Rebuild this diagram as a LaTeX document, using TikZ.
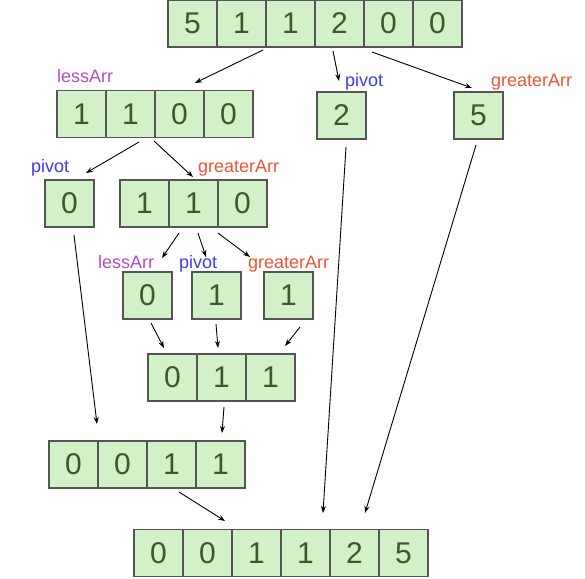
\documentclass[tikz,border=0pt]{standalone}
\usepackage{fontspec}
\setmainfont{Liberation Sans}
\usetikzlibrary{arrows.meta}
\definecolor{cellfill}{HTML}{D3F1C8}
\definecolor{celltext}{HTML}{3A5A2A}
\definecolor{cellline}{HTML}{555555}
\definecolor{lesscol}{HTML}{B04CC8}
\definecolor{pivcol}{HTML}{3B3BF5}
\definecolor{grcol}{HTML}{EE5530}
\begin{document}
\begin{tikzpicture}[x=1pt,y=-1pt,
 cell/.style={draw=cellline,line width=1.2pt,fill=cellfill,minimum width=49pt,minimum height=47pt,inner sep=0pt,text=celltext,font=\fontsize{30}{30}\selectfont},
 lab/.style={font=\fontsize{18}{18}\selectfont,inner sep=0pt,anchor=base west},
 arr/.style={-{Stealth[length=7pt,width=5pt]},line width=0.9pt}]
\useasboundingbox (0,0) rectangle (585,578);
\newcommand\cellrow[4]{\foreach \v [count=\i] in {#4} \node[cell] (#1\i) at ({#2+24.5+49*(\i-1)},#3) {\v};}
\cellrow{t}{168}{23.5}{5,1,1,2,0,0}
\cellrow{la}{57}{114}{1,1,0,0}
\cellrow{pa}{317}{115.5}{2}
\cellrow{ga}{454}{115.5}{5}
\cellrow{pb}{45}{203.5}{0}
\cellrow{gb}{120}{203.5}{1,1,0}
\cellrow{lc}{123}{295.5}{0}
\cellrow{pc}{192}{295.5}{1}
\cellrow{gc}{264}{295.5}{1}
\cellrow{m}{148}{377.5}{0,1,1}
\cellrow{n}{49}{464.5}{0,0,1,1}
\cellrow{f}{134}{553}{0,0,1,1,2,5}
% labels
\node[lab,text=lesscol] (l1) at (57,82) {lessArr};
\node[lab,text=pivcol] (l2) at (345,86) {pivot};
\node[lab,text=grcol] (l3) at (491,86) {greaterArr};
\node[lab,text=pivcol] (l4) at (31,172) {pivot};
\node[lab,text=grcol] (l5) at (198,172) {greaterArr};
\node[lab,text=lesscol] (l6) at (98,268) {lessArr};
\node[lab,text=pivcol] (l7) at (179,268) {pivot};
\node[lab,text=grcol] (l8) at (248,268) {greaterArr};
% arrow endpoints
\coordinate (a1s) at (263,50); \coordinate (a1e) at (195,83);
\coordinate (a2s) at (333,51); \coordinate (a2e) at (339,81);
\coordinate (a3s) at (372,52); \coordinate (a3e) at (472,88);
\coordinate (a4s) at (139,142); \coordinate (a4e) at (86,173);
\coordinate (a5s) at (154,141); \coordinate (a5e) at (193,177);
\coordinate (a6s) at (179,233); \coordinate (a6e) at (162,258);
\coordinate (a7s) at (198,233); \coordinate (a7e) at (206,257);
\coordinate (a8s) at (218,233); \coordinate (a8e) at (250,257);
\coordinate (a9s) at (151,323); \coordinate (a9e) at (164,348);
\coordinate (a10s) at (216,324); \coordinate (a10e) at (218,348);
\coordinate (a11s) at (300,327); \coordinate (a11e) at (285,346);
\coordinate (a12s) at (74,235); \coordinate (a12e) at (97,424);
\coordinate (a13s) at (224,407); \coordinate (a13e) at (222,433);
\coordinate (a14s) at (179,492); \coordinate (a14e) at (225,521);
\coordinate (a15s) at (346,147); \coordinate (a15e) at (323,513);
\coordinate (a16s) at (476,145); \coordinate (a16e) at (365,513);
\foreach \k in {1,...,16} \draw[arr] (a\k s) -- (a\k e);
\end{tikzpicture}
\end{document}
